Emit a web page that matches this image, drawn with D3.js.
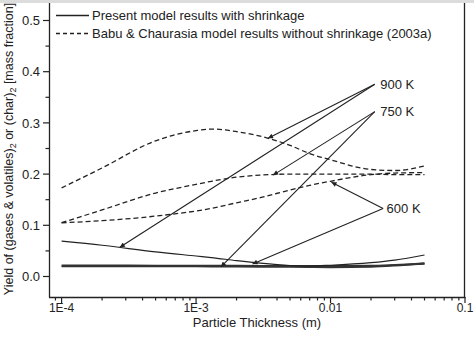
<!DOCTYPE html>
<html><head><meta charset="utf-8">
<script src="https://cdn.jsdelivr.net/npm/d3@7"></script>
<style>
html,body{margin:0;padding:0;background:#fff;}
text{font-family:"Liberation Sans",Arial,sans-serif;fill:#222;}
</style></head>
<body>
<svg id="c" width="474" height="341"></svg>
<script>
// ---- data ----
const thickness = [1e-4, 2e-4, 5e-4, 1e-3, 1.3e-3, 2e-3, 3e-3, 5e-3, 7e-3, 1e-2, 2e-2, 3e-2, 5e-2];
const babu900 = [0.173, 0.212, 0.265, 0.285, 0.288, 0.283, 0.274, 0.256, 0.240, 0.228, 0.209, 0.207, 0.216];
const babu750 = [0.105, 0.130, 0.163, 0.180, 0.186, 0.194, 0.198, 0.200, 0.200, 0.200, 0.200, 0.199, 0.199];
const babu600 = [0.105, 0.109, 0.118, 0.128, 0.133, 0.144, 0.154, 0.169, 0.178, 0.186, 0.199, 0.202, 0.203];
const present900 = [0.069, 0.061, 0.048, 0.040, 0.037, 0.031, 0.026, 0.0215, 0.0205, 0.022, 0.027, 0.032, 0.042];
const present750 = [0.020, 0.020, 0.020, 0.0198, 0.0197, 0.0195, 0.0192, 0.0188, 0.0185, 0.0183, 0.0192, 0.0215, 0.026];
const present600 = [0.0215, 0.0213, 0.0212, 0.021, 0.021, 0.0208, 0.0207, 0.0205, 0.0205, 0.0205, 0.021, 0.0225, 0.025];
const xTickLabels = ["1E-4", "1E-3", "0.01", "0.1"];
const yTickLabels = ["0.0", "0.1", "0.2", "0.3", "0.4", "0.5"];
const legendLabels = ["Present model results with shrinkage", "Babu & Chaurasia model results without shrinkage (2003a)"];
const tempLabels = ["900 K", "750 K", "600 K"];
// annotation arrows: tail (label anchor) and heads on curves, in data units
const arrowTails = [[0.02133, 0.3754], [0.02133, 0.322], [0.0246, 0.133]];
const arrowHeads = [
  [[3.43e-3, 0.270], [2.71e-4, 0.057]],
  [[3.74e-3, 0.198], [1.53e-3, 0.019]],
  [[1.016e-2, 0.184], [2.63e-3, 0.0244]]
];

// ---- chart ----
const svg = d3.select("#c");
const L = 49, R = 465, T = 3, B = 297;
const x = d3.scaleLog().domain([Math.pow(10, -4.0937), 0.1]).range([L, R]);
const y = d3.scaleLinear().domain([-0.04004, 0.53418]).range([B, T]);

svg.append("rect").attr("x", 0).attr("y", 0).attr("width", 474).attr("height", 3).attr("fill", "#dcdcdc");

const defs = svg.append("defs");
defs.append("marker").attr("id", "ah").attr("viewBox", "0 0 10 10").attr("refX", 10).attr("refY", 5)
  .attr("markerWidth", 7).attr("markerHeight", 5).attr("markerUnits", "userSpaceOnUse").attr("orient", "auto")
  .append("path").attr("d", "M0,0 L10,5 L0,10 Z").attr("fill", "#222");

// curves
const line = d3.line().x((d, i) => x(thickness[i])).y(d => y(d)).curve(d3.curveMonotoneX);
const g = svg.append("g");
[babu900, babu750, babu600].forEach(s => {
  g.append("path").attr("d", line(s)).attr("fill", "none").attr("stroke", "#222")
    .attr("stroke-width", 1.3).attr("stroke-dasharray", "5,3");
});
[present750, present600].forEach(s => {
  g.append("path").attr("d", line(s)).attr("fill", "none").attr("stroke", "#333").attr("stroke-width", 2);
});
g.append("path").attr("d", line(present900)).attr("fill", "none").attr("stroke", "#222").attr("stroke-width", 1.2);

// arrows
arrowTails.forEach((t, i) => {
  arrowHeads[i].forEach(h => {
    svg.append("line").attr("x1", x(t[0])).attr("y1", y(t[1])).attr("x2", x(h[0])).attr("y2", y(h[1]))
      .attr("stroke", "#222").attr("stroke-width", 1.1).attr("marker-end", "url(#ah)");
  });
  svg.append("text").attr("x", x(t[0]) + (i === 2 ? 3.5 : 5.5)).attr("y", y(t[1])).attr("dy", "0.36em")
    .attr("font-size", 13).text(tempLabels[i]);
});

// axes
const yAxis = svg.append("g").attr("transform", `translate(${L},0)`);
const yMajor = yTickLabels.map(Number);
const yMinor = d3.range(0, 11).map(i => -0.05 + i * 0.1).filter(v => v > -0.0401 && v < 0.534);
yAxis.append("line").attr("x1", 0.5).attr("x2", 0.5).attr("y1", T).attr("y2", B + 0.5).attr("stroke", "#222").attr("stroke-width", 1.3);
yMajor.forEach((v, i) => {
  yAxis.append("line").attr("x1", -6).attr("x2", 0).attr("y1", y(v)).attr("y2", y(v)).attr("stroke", "#222").attr("stroke-width", 1.2);
  yAxis.append("text").attr("x", -9).attr("y", y(v)).attr("dy", "0.36em").attr("text-anchor", "end").attr("font-size", 13).text(yTickLabels[i]);
});
yMinor.forEach(v => {
  yAxis.append("line").attr("x1", -3.5).attr("x2", 0).attr("y1", y(v)).attr("y2", y(v)).attr("stroke", "#222").attr("stroke-width", 1.2);
});

const xAxis = svg.append("g").attr("transform", `translate(0,${B})`);
xAxis.append("line").attr("x1", L).attr("x2", R + 0.5).attr("y1", 0.5).attr("y2", 0.5).attr("stroke", "#222").attr("stroke-width", 1.3);
const xMajor = [1e-4, 1e-3, 1e-2, 1e-1];
const xMinor = [];
[1e-5, 1e-4, 1e-3, 1e-2].forEach(d => { for (let k = 2; k <= 9; k++) { const v = d * k; if (v > x.domain()[0] && v < 0.1) xMinor.push(v); } });
xMajor.forEach((v, i) => {
  xAxis.append("line").attr("x1", x(v)).attr("x2", x(v)).attr("y1", 0).attr("y2", 6).attr("stroke", "#222").attr("stroke-width", 1.2);
  xAxis.append("text").attr("x", x(v)).attr("y", 15).attr("text-anchor", "middle").attr("font-size", 12).text(xTickLabels[i]);
});
xMinor.forEach(v => {
  xAxis.append("line").attr("x1", x(v)).attr("x2", x(v)).attr("y1", 0).attr("y2", 3.5).attr("stroke", "#222").attr("stroke-width", 1.2);
});
// right border
svg.append("line").attr("x1", R - 0.5).attr("x2", R - 0.5).attr("y1", T).attr("y2", B).attr("stroke", "#222").attr("stroke-width", 1.3);

// titles
svg.append("text").attr("x", 257).attr("y", 327).attr("text-anchor", "middle").attr("font-size", 13).text("Particle Thickness (m)");
const yt = svg.append("text").attr("transform", "translate(13,149) rotate(-90)").attr("text-anchor", "middle").attr("font-size", 12.5);
yt.append("tspan").text("Yield of (gases & volatiles)");
yt.append("tspan").attr("font-size", 9).attr("dy", 3).text("2");
yt.append("tspan").attr("dy", -3).text(" or (char)");
yt.append("tspan").attr("font-size", 9).attr("dy", 3).text("2");
yt.append("tspan").attr("dy", -3).text(" [mass fraction]");

// legend
legendLabels.forEach((lab, i) => {
  const ly = 15.5 + i * 18;
  svg.append("line").attr("x1", 56).attr("x2", 89).attr("y1", ly).attr("y2", ly).attr("stroke", "#222")
    .attr("stroke-width", 1.3).attr("stroke-dasharray", i === 1 ? "4,3" : null);
  svg.append("text").attr("x", 92).attr("y", ly).attr("dy", "0.36em").attr("font-size", 13).text(lab);
});
</script>
</body></html>
